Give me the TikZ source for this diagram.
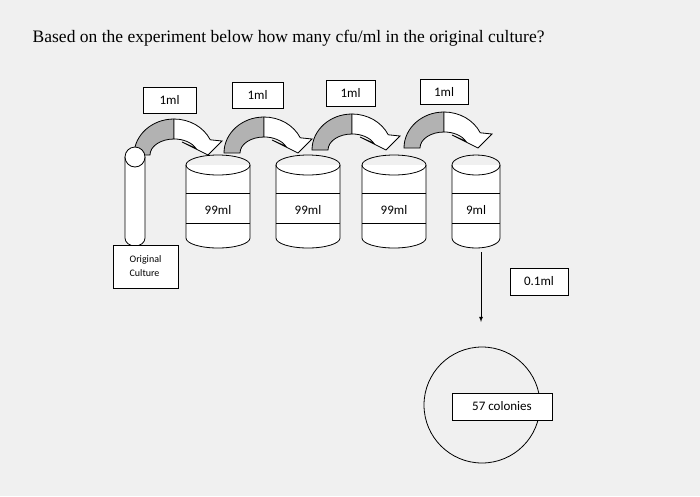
\documentclass[tikz,border=0pt]{standalone}
\usepackage{fontspec}
\setmainfont{Liberation Serif}
\newfontfamily\lab{Carlito}
\begin{document}
\begin{tikzpicture}[x=1pt,y=-1pt,line width=0.8pt,
  lbl/.style={draw,fill=white,font=\lab\fontsize{13}{15}\selectfont,inner sep=0pt},
  ]
\useasboundingbox (0,0) rectangle (700,496);
\fill[gray!12] (0,0) rectangle (700,496);
\node[anchor=west,font=\fontsize{17.5}{20}\selectfont] (title) at (29,38) {Based on the experiment below how many cfu/ml in the original culture?};
% arrows
\foreach \cx/\cy in {174/155,264/153,352/150,444/148}{
 \begin{scope}[shift={(\cx,\cy)}]
 \draw[fill=gray!60] (-40,0) arc[start angle=180,end angle=270,x radius=40,y radius=36] -- (0,-16) arc[start angle=270,end angle=180,x radius=24,y radius=16] -- cycle;
 \draw[fill=white] (0,-36) arc[start angle=270,end angle=335,x radius=40,y radius=36] -- (48,-14) -- (34,0) -- (8,-13) -- (21.8,-6.8) arc[start angle=335,end angle=270,x radius=24,y radius=16] -- cycle;
 \end{scope}}
% tube
\draw[fill=white] (125,157) -- (125,238) arc[start angle=180,end angle=0,x radius=10,y radius=8] -- (145,157);
\draw[fill=white] (135,157) ellipse[x radius=10,y radius=10];
\node[lbl,minimum width=65pt,minimum height=43pt,align=left,font=\lab\fontsize{10}{14}\selectfont] (orig) at (145.5,266.5) {Original\\Culture};
% beakers
\foreach \n/\cx/\rx/\t in {b1/218/32/99ml,b2/308/32/99ml,b3/394/32/99ml,b4/476/24/9ml}{
 \draw[fill=white] (\cx-\rx,165) -- (\cx-\rx,238) arc[start angle=180,end angle=0,x radius=\rx,y radius=10] -- (\cx+\rx,165);
 \draw (\cx,165) ellipse[x radius=\rx,y radius=10];
 \draw (\cx-\rx,193) -- (\cx+\rx,193) (\cx-\rx,223) -- (\cx+\rx,223);
 \node[font=\lab\fontsize{13}{15}\selectfont] (\n) at (\cx,210) {\t};
}
\node[lbl,minimum width=53pt,minimum height=26pt] (l1) at (169.5,100) {1ml};
\node[lbl,minimum width=51pt,minimum height=26pt] (l2) at (257.5,95) {1ml};
\node[lbl,minimum width=49pt,minimum height=26pt] (l3) at (350.5,93) {1ml};
\node[lbl,minimum width=48pt,minimum height=25pt] (l4) at (444,91.5) {1ml};
% plate
\coordinate (down) at (481,252);
\node[circle,draw,minimum size=116pt,inner sep=0pt] (plate) at (482,405) {};
\draw[-latex] (down) -- (481,322);
\node[lbl,minimum width=58pt,minimum height=27pt] (vol) at (539,281.5) {0.1ml};
\node[lbl,minimum width=100pt,minimum height=27pt] (col) at (502,406.5) {57 colonies};
\end{tikzpicture}
\end{document}
